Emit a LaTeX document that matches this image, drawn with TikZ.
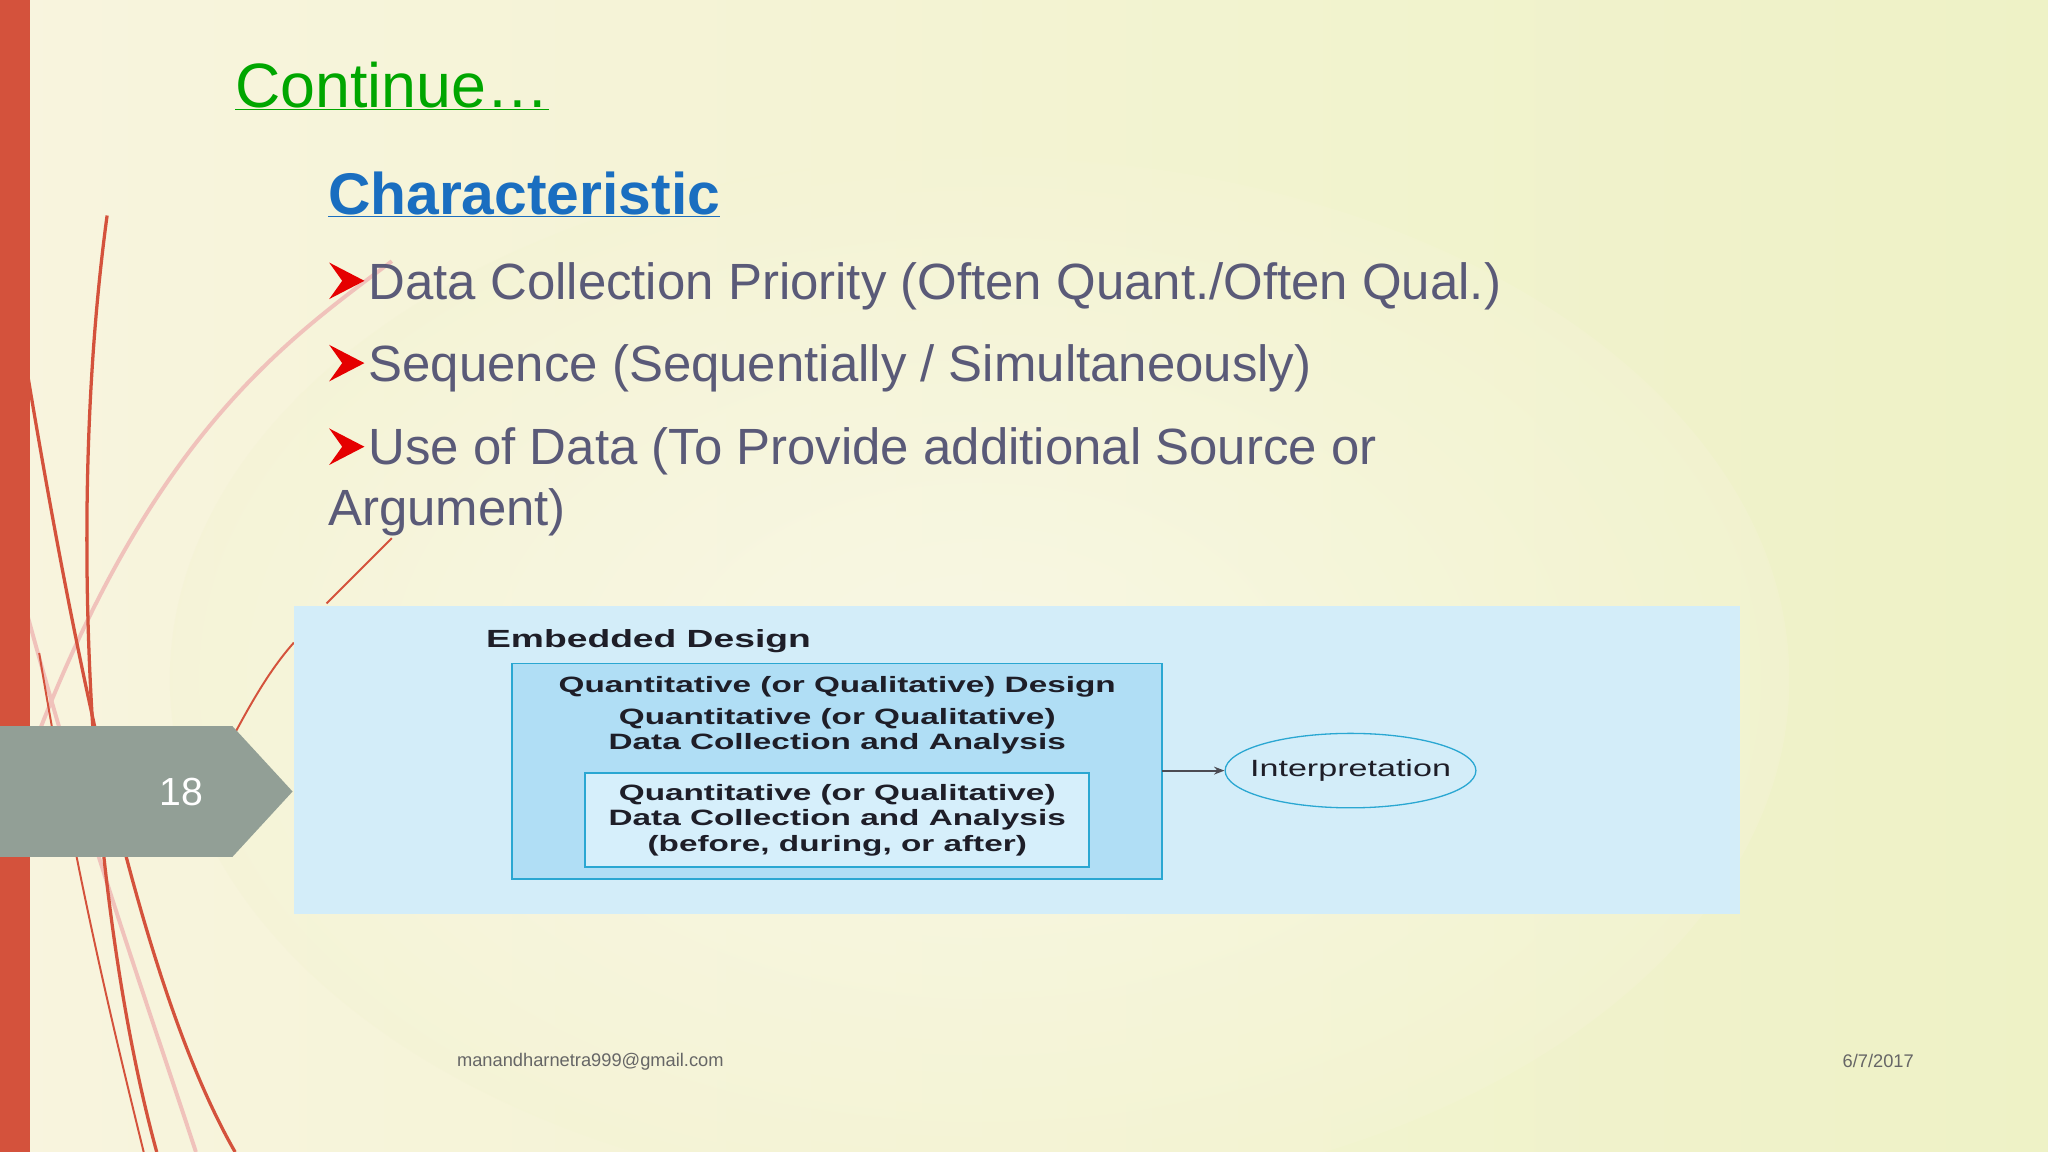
\documentclass[tikz,border=0pt]{standalone}
\usepackage{fontspec}
\setmainfont{Liberation Sans}
\usetikzlibrary{shapes.geometric,arrows.meta,calc}
\definecolor{bgl}{HTML}{F8F4DE}
\definecolor{bgr}{HTML}{EEF2C6}
\definecolor{redbar}{HTML}{D4523C}
\definecolor{txt}{HTML}{5A5A78}
\definecolor{panel}{HTML}{D3EDF9}
\definecolor{outerf}{HTML}{B0DEF5}
\definecolor{innerf}{HTML}{D6EFFB}
\definecolor{edge}{HTML}{2AA7D2}
\definecolor{dtxt}{HTML}{1E1E28}
\definecolor{tab}{HTML}{929F96}
\definecolor{chblue}{HTML}{1A6EC0}
\tikzset{
  bullet/.style={anchor=base west,text=txt,font=\fontsize{39}{46}\selectfont,inner sep=0pt},
  dtext/.style={text=dtxt,font=\bfseries\fontsize{17}{19.5}\selectfont,align=center,inner sep=0pt},
  curve/.style={draw=redbar,line width=2.5pt},
  lcurve/.style={draw=redbar!35,line width=3pt},
}
\newcommand{\wide}[1]{\scalebox{1.5}[1]{#1}}
\newcommand{\redarrow}[1]{\fill[red!90!black] ($(#1)+(-30,0)$) -- ($(#1)+(-3,-14)$) -- ($(#1)+(-30,-28)$) -- ($(#1)+(-20,-14)$) -- cycle;}
\begin{document}
\begin{tikzpicture}[x=1pt,y=-1pt]
\useasboundingbox (0,0) rectangle (1568,882);
\shade[left color=bgl,right color=bgr] (0,0) rectangle (1568,882);
\shade[inner color=white!70!bgl,outer color=bgl!60!bgr,opacity=0.5] (750,520) ellipse (620 and 400);
% decorative curves
\draw[lcurve] (10,430) .. controls (60,620) and (110,760) .. (150,882);
\draw[lcurve] (30,560) .. controls (120,330) and (220,260) .. (300,200);
\draw[curve] (82,165) .. controls (50,400) and (70,700) .. (120,882);
\draw[curve] (20,280) .. controls (60,520) and (110,760) .. (180,882);
\draw[curve,line width=1.5pt] (30,500) .. controls (60,680) and (90,800) .. (110,882);
\draw[curve,line width=1.5pt] (250,462) -- (300,412);
\draw[curve,line width=1.5pt] (150,620) .. controls (180,560) and (200,520) .. (225,492);
\fill[redbar] (0,0) rectangle (23,882);
% page tab
\fill[tab] (0,556) -- (178,556) -- (224,606) -- (178,656) -- (0,656) -- cycle;
\node[text=white,font=\fontsize{30}{34}\selectfont] (num) at (139,606) {18};
% titles
\node[anchor=base west,inner sep=0pt,text=green!65!black,font=\fontsize{48}{56}\selectfont] (title) at (180,82) {\underline{Continue…}};
\node[anchor=base west,inner sep=0pt,text=chblue,font=\bfseries\fontsize{45}{52}\selectfont] (char) at (251,164) {\underline{Characteristic}};
\node[bullet] (b1) at (282,229) {Data Collection Priority (Often Quant./Often Qual.)};
\node[bullet] (b2) at (282,292) {Sequence (Sequentially / Simultaneously)};
\node[bullet] (b3) at (282,356) {Use of Data (To Provide additional Source or};
\node[bullet] (b4) at (251,402) {Argument)};
\redarrow{b1.base west}
\redarrow{b2.base west}
\redarrow{b3.base west}
% diagram
\fill[panel] (225,464) rectangle (1332,700);
\node[text=dtxt,font=\bfseries\fontsize{19}{22}\selectfont,anchor=west,inner sep=0pt] (emb) at (372,491) {\wide{Embedded Design}};
\draw[edge,line width=1.5pt,fill=outerf] (392,508) rectangle (890,673);
\coordinate (outerE) at (890,590);
\node[dtext] (t1) at (641,526) {\wide{Quantitative (or Qualitative) Design}};
\node[dtext] (t2) at (641,560) {\wide{Quantitative (or Qualitative)}\\\wide{Data Collection and Analysis}};
\draw[edge,line width=1.5pt,fill=innerf] (448,592) rectangle (834,664);
\node[dtext] (t3) at (641,628) {\wide{Quantitative (or Qualitative)}\\\wide{Data Collection and Analysis}\\\wide{(before, during, or after)}};
\node[ellipse,draw=edge,line width=1pt,minimum width=192,minimum height=57,inner sep=0pt] (interp) at (1034,590) {};
\node[text=dtxt,font=\fontsize{18}{20}\selectfont,inner sep=0pt] (interpT) at (interp.center) {\scalebox{1.45}[1]{Interpretation}};
\draw[-{Stealth[length=8pt,width=6pt]},line width=1.5pt,dtxt!80] (outerE) -- (interp.west);
% footer
\node[text=gray!80!black,font=\fontsize{14}{16}\selectfont] (mail) at (452,813) {manandharnetra999@gmail.com};
\node[text=gray!80!black,font=\fontsize{14}{16}\selectfont] (date) at (1438,812) {6/7/2017};
\end{tikzpicture}
\end{document}
